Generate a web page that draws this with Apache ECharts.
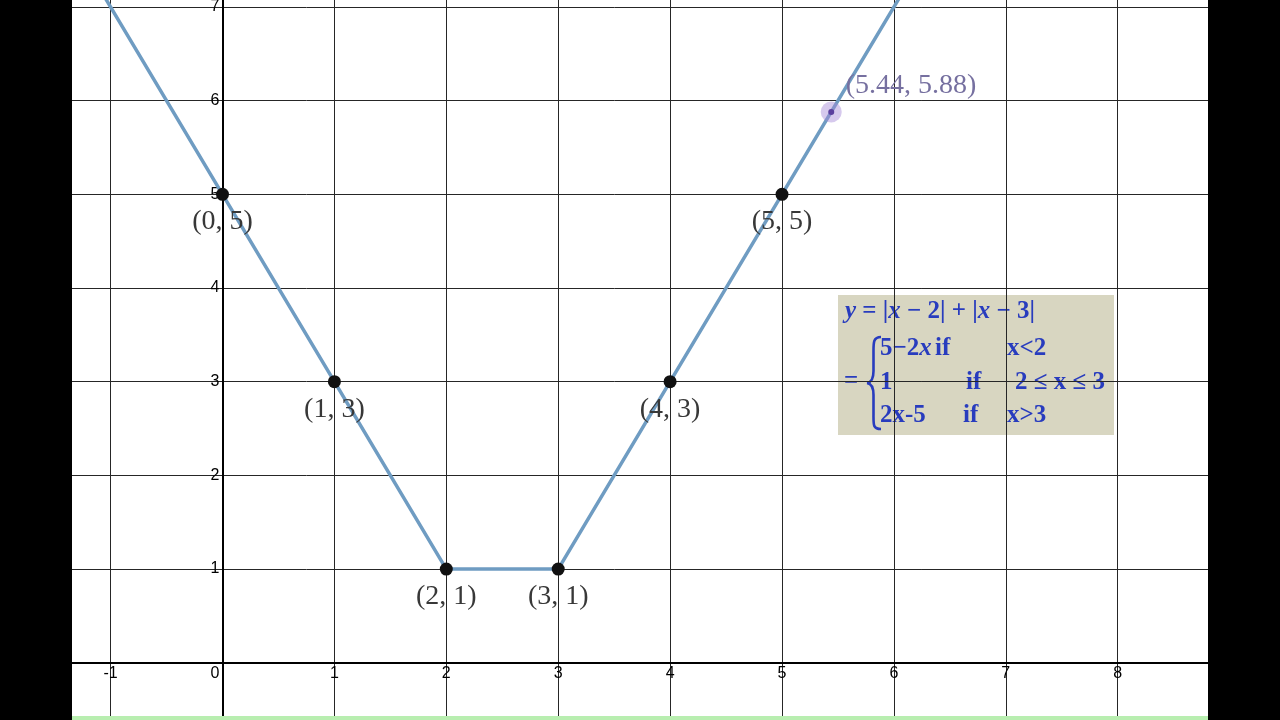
<!DOCTYPE html>
<html>
<head>
<meta charset="utf-8">
<script src="https://cdn.jsdelivr.net/npm/echarts@6/dist/echarts.min.js"></script>
<style>
html,body{margin:0;padding:0;background:#000;}
#c{width:1280px;height:720px;}
</style>
</head>
<body>
<div id="c"></div>
<script>
// ---- data ----
var lineX = [-1.5, 0, 1, 2, 3, 4, 5, 6.5];
var lineY = [8, 5, 3, 1, 1, 3, 5, 8];
var dotX = [0, 1, 2, 3, 4, 5];
var dotY = [5, 3, 1, 1, 3, 5];
var probeX = [5.44];
var probeY = [5.88];
var xTickLabels = ['-1', '0', '1', '2', '3', '4', '5', '6', '7', '8'];
var yTickLabels = ['1', '2', '3', '4', '5', '6', '7'];
var formulaTitle = '{i|y} = |{i|x} − 2| + |{i|x} − 3|';
var formulaExpr = ['5−2{i|x}', '1', '2x-5'];
var formulaIf = ['if', 'if', 'if'];
var formulaCond = ['x<2', '2 ≤ x ≤ 3', 'x>3'];

var lineData = lineX.map(function (x, i) { return [x, lineY[i]]; });
var dotData = dotX.map(function (x, i) { return [x, dotY[i]]; });
var probeData = probeX.map(function (x, i) { return [x, probeY[i]]; });

var chart = echarts.init(document.getElementById('c'));
var blue = '#283cbe';
var fbold = 'bold 25px "Liberation Serif", "Times New Roman", serif';
var richI = { i: { fontStyle: 'italic', fontWeight: 'bold', fontSize: 25, fontFamily: 'Liberation Serif', color: blue } };
var braceStyle = { fill: 'none', stroke: blue, lineWidth: 2.6 };

var exprRows = [54, 88, 121];
var ifX = [97, 128, 125];
var condX = [169, 177, 169];
var boxChildren = [
  { type: 'rect', shape: { x: 0, y: 0, width: 276, height: 140 }, style: { fill: '#d8d6c1' } },
  { type: 'text', x: 7, y: 17, style: { text: formulaTitle, font: fbold, fill: blue, verticalAlign: 'middle', rich: richI } },
  { type: 'text', x: 6, y: 87, style: { text: '=', font: fbold, fill: blue, verticalAlign: 'middle' } },
  { type: 'bezierCurve', shape: { x1: 43, y1: 42, cpx1: 35, cpy1: 42, cpx2: 35.5, cpy2: 48, x2: 35.5, y2: 58 }, style: braceStyle },
  { type: 'line', shape: { x1: 35.5, y1: 58, x2: 35.5, y2: 76 }, style: braceStyle },
  { type: 'bezierCurve', shape: { x1: 35.5, y1: 76, cpx1: 35.5, cpy1: 84, cpx2: 33, cpy2: 87.5, x2: 29, y2: 88 }, style: braceStyle },
  { type: 'bezierCurve', shape: { x1: 29, y1: 88, cpx1: 33, cpy1: 88.5, cpx2: 35.5, cpy2: 92, x2: 35.5, y2: 100 }, style: braceStyle },
  { type: 'line', shape: { x1: 35.5, y1: 100, x2: 35.5, y2: 120 }, style: braceStyle },
  { type: 'bezierCurve', shape: { x1: 35.5, y1: 120, cpx1: 35.5, cpy1: 130, cpx2: 35, cpy2: 134, x2: 43, y2: 134 }, style: braceStyle }
];
for (var r = 0; r < 3; r++) {
  boxChildren.push({ type: 'text', x: 42, y: exprRows[r], style: { text: formulaExpr[r], font: fbold, fill: blue, verticalAlign: 'middle', rich: richI } });
  boxChildren.push({ type: 'text', x: ifX[r], y: exprRows[r], style: { text: formulaIf[r], font: fbold, fill: blue, verticalAlign: 'middle' } });
  boxChildren.push({ type: 'text', x: condX[r], y: exprRows[r], style: { text: formulaCond[r], font: fbold, fill: blue, verticalAlign: 'middle' } });
}

var labelFont = 'Liberation Sans';
var gridColor = '#262626';
var option = {
  backgroundColor: '#000',
  animation: false,
  grid: { left: -1.3, right: 50.4, top: -86.66, bottom: -36.37, show: false, containLabel: false, outerBoundsMode: 'none' },
  xAxis: {
    type: 'value', min: -2, max: 9, interval: 1, position: 'bottom', offset: -93.67,
    axisLine: { onZero: false, lineStyle: { color: '#000', width: 2 } },
    axisTick: { show: false },
    splitLine: { show: true, lineStyle: { color: gridColor, width: 1 } },
    axisLabel: {
      margin: 3, fontSize: 16, color: '#000', fontFamily: labelFont, hideOverlap: false,
      formatter: function (v) {
        var s = String(Math.round(v));
        if (Math.abs(v - Math.round(v)) > 1e-6 || xTickLabels.indexOf(s) < 0) return '';
        if (s === '0') return '{z|0}';
        return s;
      },
      rich: { z: { fontSize: 16, color: '#000', fontFamily: labelFont, padding: [0, 15, 0, 0] } }
    }
  },
  yAxis: {
    type: 'value', min: -1, max: 8, interval: 1, position: 'left', offset: -223.8,
    axisLine: { onZero: false, lineStyle: { color: '#000', width: 2 } },
    axisTick: { show: false },
    splitLine: { show: true, lineStyle: { color: gridColor, width: 1 } },
    axisLabel: {
      margin: 3, fontSize: 16, color: '#000', fontFamily: labelFont, hideOverlap: false,
      formatter: function (v) {
        var s = String(Math.round(v));
        if (Math.abs(v - Math.round(v)) > 1e-6 || yTickLabels.indexOf(s) < 0) return '';
        return s;
      }
    }
  },
  graphic: [
    { type: 'rect', z: -2, shape: { x: 72, y: 0, width: 1136, height: 720 }, style: { fill: '#fff' } },
    { type: 'group', z: -1, x: 838, y: 295, children: boxChildren.map(function (c) { c.z = -1; return c; }) },
    { type: 'rect', z: 100, shape: { x: 72, y: 716, width: 1136, height: 4 }, style: { fill: '#b8eeb0' } },
    { type: 'rect', z: 100, shape: { x: 0, y: 0, width: 72, height: 720 }, style: { fill: '#000' } },
    { type: 'rect', z: 100, shape: { x: 1208, y: 0, width: 72, height: 720 }, style: { fill: '#000' } }
  ],
  series: [
    {
      type: 'line', data: lineData, showSymbol: false, symbol: 'none',
      lineStyle: { color: '#6f9cc2', width: 3.5 }, z: 3, silent: true
    },
    {
      type: 'scatter', data: dotData, symbolSize: 13, z: 4,
      itemStyle: { color: '#111', opacity: 1 },
      label: {
        show: true, position: 'bottom', distance: 7,
        fontFamily: 'Liberation Serif', fontSize: 28, lineHeight: 28, color: '#383838',
        formatter: function (p) { return '(' + p.value[0] + ', ' + p.value[1] + ')'; }
      }
    },
    {
      type: 'scatter', data: probeData, symbolSize: 21, z: 5,
      itemStyle: { color: 'rgba(165,135,215,0.45)', opacity: 1 },
      label: {
        show: true, position: [25, -16], align: 'left', verticalAlign: 'middle',
        fontFamily: 'Liberation Serif', fontSize: 28, color: '#7670a0',
        formatter: function (p) { return '(' + p.value[0] + ', ' + p.value[1] + ')'; }
      }
    },
    {
      type: 'scatter', data: probeData, symbolSize: 6, z: 6,
      itemStyle: { color: '#5b3f9e', opacity: 1 }
    }
  ]
};
chart.setOption(option);
</script>
</body>
</html>
